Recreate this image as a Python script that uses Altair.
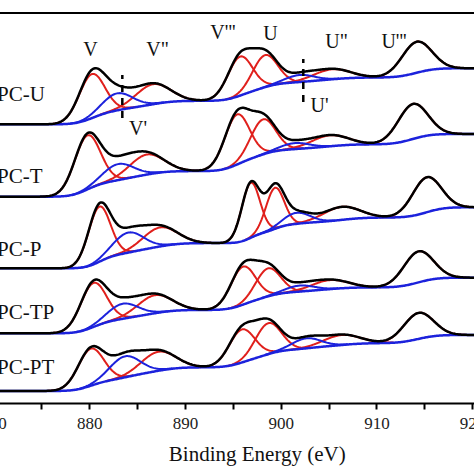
import altair as alt
import numpy as np
import pandas as pd

# Ce 3d XPS spectra, offset-stacked, with peak-fit components
samples = ["PC-U", "PC-T", "PC-P", "PC-TP", "PC-PT"]
components = ["V", "V'", "V''", "V'''", "U", "U'", "U''", "U'''"]
states = ["Ce4+", "Ce3+", "Ce4+", "Ce4+", "Ce4+", "Ce3+", "Ce4+", "Ce4+"]

# background level on the low / high binding-energy side (stacked counts)
bg_low = [278.7, 206.3, 134.7, 69.7, 12.0]
bg_high = [334.7, 269.0, 195.7, 125.3, 68.0]

# peak centres (eV), heights (counts above background) and widths (sigma, eV)
centers = {
    "PC-U":  [880.25, 882.90, 886.66, 895.75, 898.36, 902.00, 905.36, 914.20],
    "PC-T":  [879.79, 883.03, 886.00, 895.43, 898.15, 901.50, 905.15, 913.80],
    "PC-P":  [881.04, 884.07, 887.39, 896.87, 899.40, 901.67, 906.37, 915.25],
    "PC-TP": [880.42, 883.50, 886.86, 896.06, 898.67, 902.00, 905.15, 914.38],
    "PC-PT": [880.15, 883.73, 887.21, 895.93, 898.70, 902.70, 906.37, 914.38],
}
heights = {
    "PC-U":  [44, 17, 20, 39, 32, 7, 10, 31],
    "PC-T":  [54, 16, 20, 50, 35, 6, 11, 35],
    "PC-P":  [55, 20, 19, 55, 41, 11, 13, 35],
    "PC-TP": [44, 15, 18, 38, 28, 6, 9, 31],
    "PC-PT": [37, 21, 19, 33, 31, 10, 10, 26],
}
sigmas = {
    "PC-U":  [1.35, 1.6, 1.8, 1.3, 1.3, 1.5, 1.9, 1.55],
    "PC-T":  [1.35, 1.6, 1.8, 1.3, 1.3, 1.5, 1.9, 1.55],
    "PC-P":  [1.15, 1.6, 1.8, 0.95, 0.95, 1.4, 1.9, 1.5],
    "PC-TP": [1.35, 1.6, 1.8, 1.3, 1.3, 1.5, 1.9, 1.55],
    "PC-PT": [1.35, 1.6, 1.8, 1.35, 1.35, 1.5, 1.9, 1.55],
}

# annotation placement
sample_label_level = [308.5, 226.5, 153.5, 89.8, 34.8]
peak_labels = ["V", 'V"', "V'''", "U", 'U"', "U'''", "V'", "U'"]
peak_label_x = [880.13, 887.13, 893.97, 898.94, 905.83, 911.84, 885.09, 904.05]
peak_label_y = [353, 353, 370, 369.5, 361, 361, 274.5, 297.5]
marker_x = [883.45, 902.36]
marker_y1 = [285, 301]
marker_y2 = [328, 344]

FONT = "Liberation Serif"
RED = "#e0201c"
BLUE = "#1c22dc"

energy = np.round(np.arange(870.0, 925.0001, 0.1), 2)

env_rows, bg_rows, comp_rows = [], [], []
for i, s in enumerate(samples):
    profiles = [h * np.exp(-(energy - c) ** 2 / (2 * w * w))
                for c, h, w in zip(centers[s], heights[s], sigmas[s])]
    total = np.sum(profiles, axis=0)
    cum = np.cumsum(total)
    cum = cum / cum[-1]
    bg = bg_low[i] + (bg_high[i] - bg_low[i]) * cum  # Shirley-type background
    env = bg + total
    for e, b, v in zip(energy, bg, env):
        env_rows.append({"sample": s, "E": e, "I": v})
        bg_rows.append({"sample": s, "E": e, "I": b})
    for name, st, p in zip(components, states, profiles):
        mask = p > 0.15
        for e, b, v in zip(energy[mask], bg[mask], p[mask]):
            comp_rows.append({"sample": s, "comp": name, "state": st,
                              "key": s + name, "E": e, "I": b + v})

env_df = pd.DataFrame(env_rows)
bg_df = pd.DataFrame(bg_rows)
comp_df = pd.DataFrame(comp_rows)

x_scale = alt.Scale(domain=[870, 925], range=[-6.4, 519.95], nice=False, zero=False)
y_scale = alt.Scale(domain=[0, 390], nice=False, zero=False)

x_enc = alt.X("E:Q", scale=x_scale,
              axis=alt.Axis(title="Binding Energy (eV)",
                            values=list(range(870, 926, 5)),
                            labelExpr="datum.value % 10 == 0 ? datum.label : ''",
                            format="d", labelFlush=False, labelOverlap=False,
                            grid=False, tickSize=6, tickWidth=2, tickColor="black",
                            domainColor="black", domainWidth=2,
                            labelFont=FONT, labelFontSize=17, labelColor="#222",
                            labelPadding=6, titleFont=FONT, titleFontSize=21,
                            titleFontWeight="normal", titleColor="#111",
                            titlePadding=12))
y_enc = alt.Y("I:Q", scale=y_scale, axis=None)

red_layer = alt.Chart(comp_df[comp_df.state == "Ce4+"]).mark_line(
    color=RED, strokeWidth=2).encode(x=x_enc, y=y_enc, detail="key:N", order="E:Q")
blue_layer = alt.Chart(comp_df[comp_df.state == "Ce3+"]).mark_line(
    color=BLUE, strokeWidth=2).encode(x=x_enc, y=y_enc, detail="key:N", order="E:Q")
bg_layer = alt.Chart(bg_df).mark_line(color=BLUE, strokeWidth=2.5).encode(
    x=x_enc, y=y_enc, detail="sample:N", order="E:Q")
env_layer = alt.Chart(env_df).mark_line(color="black", strokeWidth=2.5).encode(
    x=x_enc, y=y_enc, detail="sample:N", order="E:Q")

name_df = pd.DataFrame({"sample": samples, "E": [870.36] * 5, "I": sample_label_level})
name_layer = alt.Chart(name_df).mark_text(
    align="left", baseline="middle", font=FONT, fontSize=21, color="#111"
).encode(x=x_enc, y=y_enc, text="sample:N")

peak_df = pd.DataFrame({"label": peak_labels, "E": peak_label_x, "I": peak_label_y})
peak_layer = alt.Chart(peak_df).mark_text(
    align="center", baseline="middle", font=FONT, fontSize=20, color="#111"
).encode(x=x_enc, y=y_enc, text="label:N")

marker_df = pd.DataFrame({"E": marker_x, "I": marker_y1, "I2": marker_y2})
marker_layer = alt.Chart(marker_df).mark_rule(
    color="black", strokeWidth=2.5, strokeDash=[7, 6]
).encode(x=x_enc, y=y_enc, y2="I2:Q")

frame_top = alt.Chart(pd.DataFrame({"E": [870], "E2": [925]})).mark_rule(
    color="black", strokeWidth=2
).encode(x=x_enc, x2="E2:Q", y=alt.value(0))

chart = alt.layer(
    red_layer, blue_layer, bg_layer, env_layer,
    name_layer, peak_layer, marker_layer, frame_top
).properties(
    width=474, height=390,
    autosize=alt.AutoSizeParams(type="none"),
    padding={"left": 0, "top": 13, "right": 0, "bottom": 71},
    background="white",
).configure_view(stroke=None)

chart.save("out.html", embed_options={"renderer": "svg", "actions": False})
